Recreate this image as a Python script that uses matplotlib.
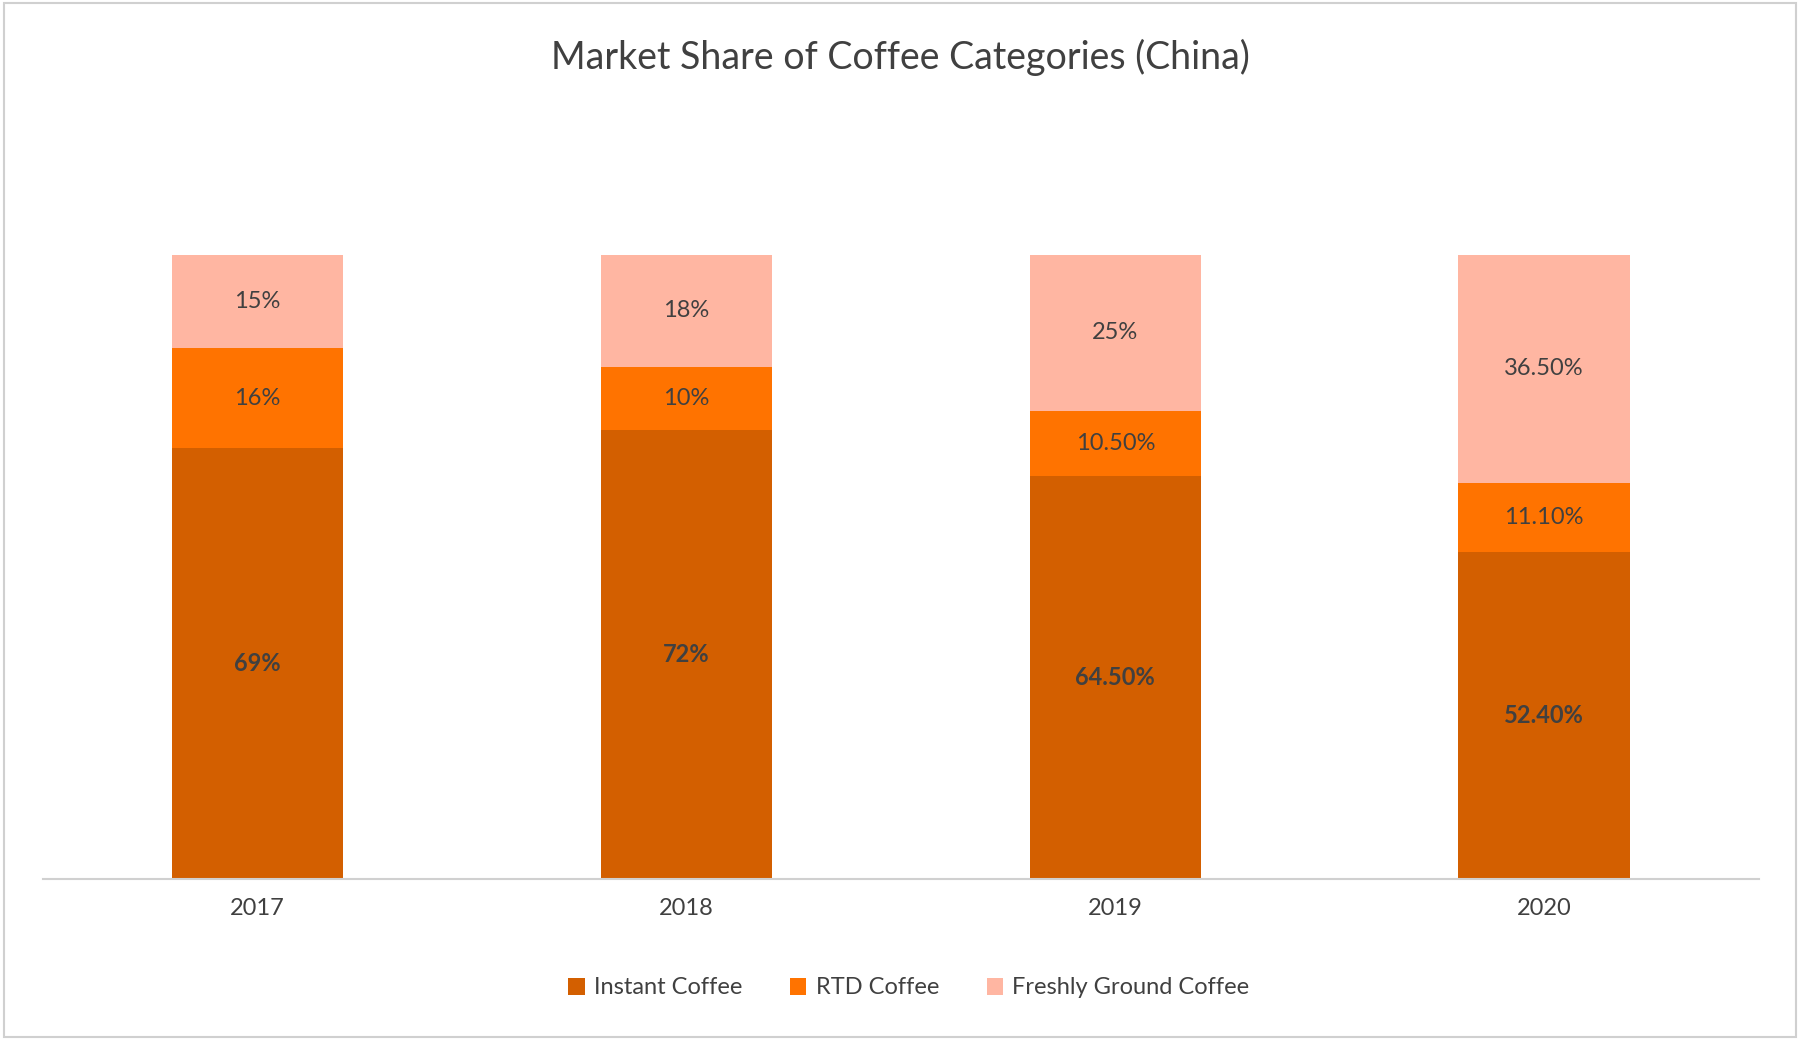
import matplotlib
matplotlib.use("Agg")
import matplotlib.pyplot as plt
import numpy as np

plt.rcParams["font.family"] = ["Lato", "DejaVu Sans"]

YEARS = ["2017", "2018", "2019", "2020"]
INSTANT = [69, 72, 64.5, 52.4]
RTD = [16, 10, 10.5, 11.1]
FRESH = [15, 18, 25, 36.5]
INSTANT_LBL = ["69%", "72%", "64.50%", "52.40%"]
RTD_LBL = ["16%", "10%", "10.50%", "11.10%"]
FRESH_LBL = ["15%", "18%", "25%", "36.50%"]

COLORS = {"Instant Coffee": "#D35F00", "RTD Coffee": "#FF7300", "Freshly Ground Coffee": "#FFB6A2"}
TXT = "#404040"

fig = plt.figure(figsize=(18, 10.4), dpi=100)
ax = fig.add_axes([0.024, 0.155, 0.953, 0.6])
fig.patches.append(plt.Rectangle((0.002, 0.003), 0.996, 0.994, transform=fig.transFigure,
                                 fill=False, edgecolor="#d0d0d0", linewidth=1.5))

x = np.arange(len(YEARS))
bottom = np.zeros(len(YEARS))
for name, vals, lbls, bold in [("Instant Coffee", INSTANT, INSTANT_LBL, True),
                               ("RTD Coffee", RTD, RTD_LBL, False),
                               ("Freshly Ground Coffee", FRESH, FRESH_LBL, False)]:
    v = np.array(vals)
    ax.bar(x, v, width=0.4, bottom=bottom, color=COLORS[name], label=name)
    for xi, b, vi, l in zip(x, bottom, v, lbls):
        ax.text(xi, b + vi / 2, l, ha="center", va="center", fontsize=17, color=TXT,
                fontweight="bold" if bold else "normal")
    bottom += v

ax.set_xlim(-0.5, 3.5)
ax.set_ylim(0, 100)
ax.set_xticks(x)
ax.set_xticklabels(YEARS, fontsize=17, color=TXT)
ax.tick_params(axis="x", length=0, pad=14)
ax.set_yticks([])
for s in ["top", "left", "right"]:
    ax.spines[s].set_visible(False)
ax.spines["bottom"].set_color("#d0d0d0")
ax.spines["bottom"].set_linewidth(1.5)

fig.text(0.5, 0.945, "Market Share of Coffee Categories (China)", ha="center", va="center",
         fontsize=27, color=TXT)
fig.legend(loc="center", bbox_to_anchor=(0.505, 0.05), ncol=3, frameon=False, fontsize=17,
           handlelength=0.7, handleheight=0.7, handletextpad=0.4, columnspacing=2.0,
           labelcolor=TXT)

fig.savefig("out.png", dpi=100)
